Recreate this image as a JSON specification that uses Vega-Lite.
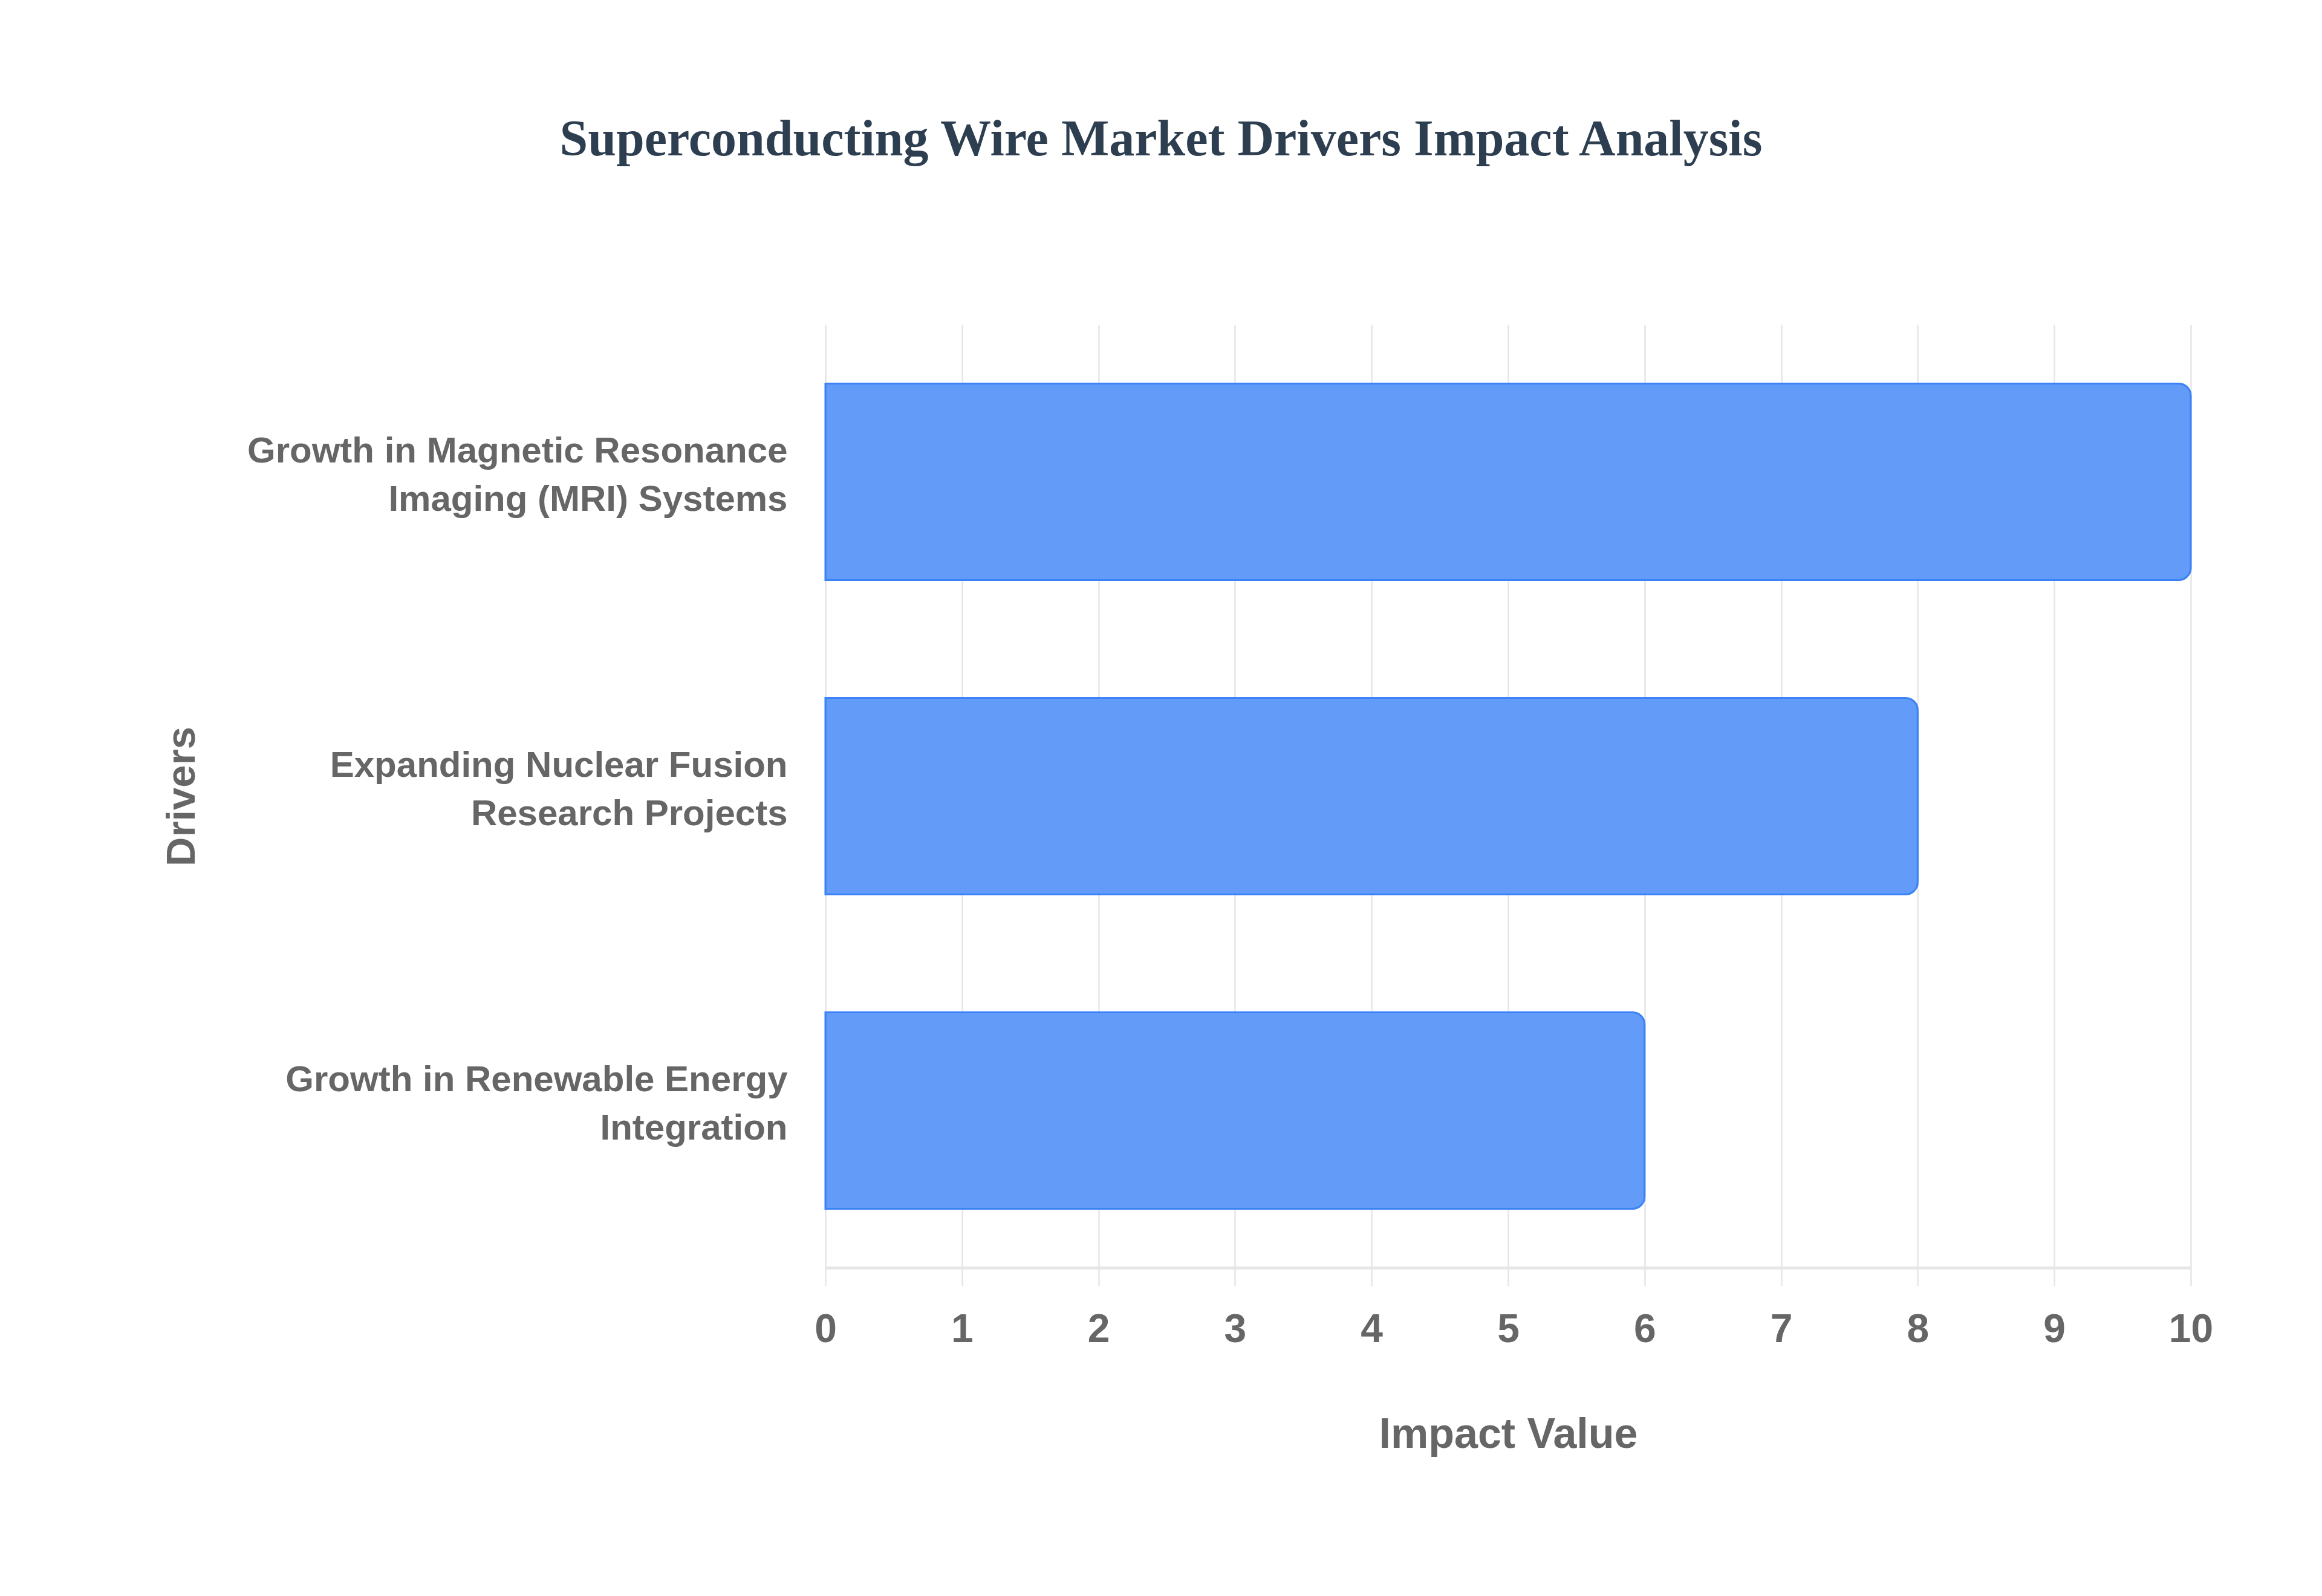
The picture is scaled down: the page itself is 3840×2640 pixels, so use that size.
{
  "$schema": "https://vega.github.io/schema/vega-lite/v6.json",
  "width": 2258,
  "height": 1560,
  "autosize": {"type": "none"},
  "padding": {"left": 1365, "top": 537, "right": 217, "bottom": 543},
  "background": "white",
  "title": {
    "text": "Superconducting Wire Market Drivers Impact Analysis",
    "font": "Liberation Serif",
    "fontSize": 84,
    "fontWeight": "bold",
    "color": "#2c3e50",
    "anchor": "middle",
    "frame": "group",
    "dx": -574,
    "offset": 262
  },
  "data": {
    "values": [
      {"driver": "Growth in Magnetic Resonance\nImaging (MRI) Systems", "impact": 10},
      {"driver": "Expanding Nuclear Fusion\nResearch Projects", "impact": 8},
      {"driver": "Growth in Renewable Energy\nIntegration", "impact": 6}
    ]
  },
  "mark": {
    "type": "bar",
    "fill": "#629bf8",
    "stroke": "#3b82f6",
    "strokeWidth": 3,
    "cornerRadiusEnd": 20
  },
  "encoding": {
    "y": {
      "field": "driver",
      "type": "nominal",
      "sort": null,
      "scale": {"paddingInner": 0.375, "paddingOuter": 0.1875},
      "axis": {
        "title": "Drivers",
        "labelExpr": "split(datum.label, '\\n')",
        "labelFont": "Liberation Sans",
        "labelFontSize": 60,
        "labelFontWeight": "bold",
        "labelColor": "#666666",
        "labelLineHeight": 80,
        "labelPadding": 63,
        "labelOffset": -50,
        "labelLimit": 2000,
        "ticks": false,
        "tickSize": 0,
        "domainColor": "#e6e6e6",
        "domainWidth": 2.5,
        "grid": false,
        "titleFont": "Liberation Sans",
        "titleFontSize": 67,
        "titleFontWeight": "bold",
        "titleColor": "#666666",
        "titleAngle": 270,
        "titleAlign": "center",
        "titleBaseline": "middle",
        "titleX": -1064,
        "titleY": 780
      }
    },
    "x": {
      "field": "impact",
      "type": "quantitative",
      "scale": {"domain": [0, 10], "nice": false},
      "axis": {
        "title": "Impact Value",
        "values": [0, 1, 2, 3, 4, 5, 6, 7, 8, 9, 10],
        "labelFont": "Liberation Sans",
        "labelFontSize": 66,
        "labelFontWeight": "bold",
        "labelColor": "#666666",
        "labelPadding": 40,
        "labelFlush": false,
        "tickColor": "#e6e6e6",
        "tickSize": 30,
        "tickWidth": 2.5,
        "domainColor": "#e6e6e6",
        "domainWidth": 5,
        "grid": true,
        "gridColor": "#e6e6e6",
        "gridWidth": 2.5,
        "titleFont": "Liberation Sans",
        "titleFontSize": 70,
        "titleFontWeight": "bold",
        "titleColor": "#666666",
        "titlePadding": 107
      }
    }
  },
  "config": {"view": {"stroke": null}}
}
